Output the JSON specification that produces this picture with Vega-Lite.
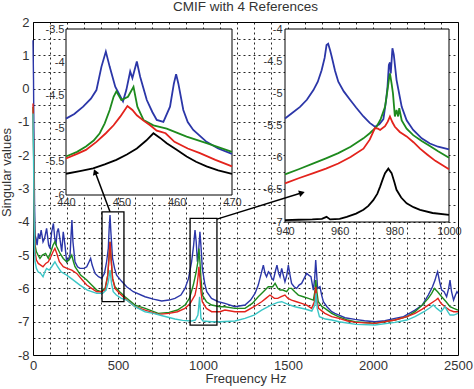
{
"$schema": "https://vega.github.io/schema/vega-lite/v6.json",
"autosize": {"type": "none"},
"width": 425, "height": 333,
"padding": {"left": 33, "top": 22, "right": 16, "bottom": 34},
"title": {"text": "CMIF with 4 References", "fontSize": 13.5, "fontWeight": "normal", "color": "#333", "baseline": "alphabetic", "offset": 3, "dy": 11, "frame": "group"},
"config": {"font": "Liberation Sans", "view": {"stroke": "#000", "strokeWidth": 1}},
"datasets": {
"main": [
{"s":"1","f":0,"v":1.45},{"s":"1","f":3,"v":0.3},{"s":"1","f":6,"v":-1.8},{"s":"1","f":9,"v":-3.4},{"s":"1","f":12,"v":-4.4},{"s":"1","f":18,"v":-4.5},{"s":"1","f":24,"v":-4.7},{"s":"1","f":32,"v":-4.35},{"s":"1","f":40,"v":-4.5},{"s":"1","f":48,"v":-4.25},{"s":"1","f":59,"v":-4.6},{"s":"1","f":68,"v":-4.5},{"s":"1","f":80,"v":-4.2},{"s":"1","f":92,"v":-4.7},{"s":"1","f":100,"v":-4.8},{"s":"1","f":110,"v":-4.3},{"s":"1","f":120,"v":-4.05},{"s":"1","f":128,"v":-4.5},{"s":"1","f":135,"v":-4.7},{"s":"1","f":142,"v":-4.3},{"s":"1","f":149,"v":-4.2},{"s":"1","f":158,"v":-4.5},{"s":"1","f":169,"v":-4.9},{"s":"1","f":178,"v":-4.3},{"s":"1","f":188,"v":-4.7},{"s":"1","f":198,"v":-5.2},{"s":"1","f":210,"v":-5.1},{"s":"1","f":218,"v":-5.0},{"s":"1","f":224,"v":-4.4},{"s":"1","f":229,"v":-3.95},{"s":"1","f":235,"v":-4.6},{"s":"1","f":247,"v":-5.2},{"s":"1","f":262,"v":-5.35},{"s":"1","f":276,"v":-5.4},{"s":"1","f":300,"v":-5.4},{"s":"1","f":316,"v":-5.35},{"s":"1","f":330,"v":-5.2},{"s":"1","f":339,"v":-5.1},{"s":"1","f":348,"v":-5.3},{"s":"1","f":365,"v":-5.55},{"s":"1","f":385,"v":-5.65},{"s":"1","f":404,"v":-5.7},{"s":"1","f":420,"v":-5.55},{"s":"1","f":433,"v":-5.2},{"s":"1","f":443,"v":-4.8},{"s":"1","f":448,"v":-4.2},{"s":"1","f":453,"v":-3.8},{"s":"1","f":458,"v":-4.3},{"s":"1","f":468,"v":-5.1},{"s":"1","f":480,"v":-5.4},{"s":"1","f":492,"v":-5.6},{"s":"1","f":520,"v":-5.78},{"s":"1","f":551,"v":-5.95},{"s":"1","f":590,"v":-6.1},{"s":"1","f":659,"v":-6.25},{"s":"1","f":708,"v":-6.32},{"s":"1","f":757,"v":-6.38},{"s":"1","f":800,"v":-6.35},{"s":"1","f":835,"v":-6.3},{"s":"1","f":870,"v":-6.2},{"s":"1","f":894,"v":-6.0},{"s":"1","f":915,"v":-5.7},{"s":"1","f":933,"v":-5.2},{"s":"1","f":945,"v":-4.7},{"s":"1","f":953,"v":-4.25},{"s":"1","f":960,"v":-4.6},{"s":"1","f":967,"v":-5.2},{"s":"1","f":974,"v":-4.9},{"s":"1","f":982,"v":-4.3},{"s":"1","f":989,"v":-4.8},{"s":"1","f":996,"v":-5.4},{"s":"1","f":1010,"v":-5.85},{"s":"1","f":1022,"v":-6.1},{"s":"1","f":1050,"v":-6.3},{"s":"1","f":1090,"v":-6.4},{"s":"1","f":1129,"v":-6.45},{"s":"1","f":1188,"v":-6.55},{"s":"1","f":1247,"v":-6.5},{"s":"1","f":1280,"v":-6.35},{"s":"1","f":1306,"v":-6.15},{"s":"1","f":1325,"v":-5.9},{"s":"1","f":1340,"v":-5.6},{"s":"1","f":1355,"v":-5.3},{"s":"1","f":1365,"v":-5.55},{"s":"1","f":1374,"v":-5.65},{"s":"1","f":1385,"v":-5.5},{"s":"1","f":1394,"v":-5.55},{"s":"1","f":1405,"v":-5.7},{"s":"1","f":1414,"v":-5.75},{"s":"1","f":1425,"v":-5.5},{"s":"1","f":1435,"v":-5.3},{"s":"1","f":1445,"v":-5.55},{"s":"1","f":1453,"v":-5.65},{"s":"1","f":1463,"v":-5.4},{"s":"1","f":1472,"v":-5.6},{"s":"1","f":1482,"v":-5.8},{"s":"1","f":1493,"v":-5.6},{"s":"1","f":1502,"v":-5.3},{"s":"1","f":1512,"v":-5.6},{"s":"1","f":1521,"v":-5.85},{"s":"1","f":1536,"v":-5.95},{"s":"1","f":1551,"v":-6.0},{"s":"1","f":1565,"v":-5.9},{"s":"1","f":1580,"v":-5.85},{"s":"1","f":1595,"v":-5.7},{"s":"1","f":1610,"v":-5.55},{"s":"1","f":1622,"v":-5.6},{"s":"1","f":1635,"v":-5.65},{"s":"1","f":1649,"v":-6.05},{"s":"1","f":1657,"v":-5.7},{"s":"1","f":1663,"v":-5.15},{"s":"1","f":1669,"v":-5.6},{"s":"1","f":1674,"v":-6.0},{"s":"1","f":1688,"v":-5.95},{"s":"1","f":1698,"v":-6.2},{"s":"1","f":1708,"v":-6.4},{"s":"1","f":1729,"v":-6.55},{"s":"1","f":1757,"v":-6.7},{"s":"1","f":1776,"v":-6.75},{"s":"1","f":1800,"v":-6.8},{"s":"1","f":1835,"v":-6.88},{"s":"1","f":1894,"v":-6.93},{"s":"1","f":1950,"v":-6.97},{"s":"1","f":2012,"v":-7.0},{"s":"1","f":2070,"v":-6.97},{"s":"1","f":2129,"v":-6.9},{"s":"1","f":2180,"v":-6.85},{"s":"1","f":2247,"v":-6.65},{"s":"1","f":2290,"v":-6.5},{"s":"1","f":2325,"v":-6.2},{"s":"1","f":2350,"v":-5.95},{"s":"1","f":2365,"v":-5.75},{"s":"1","f":2376,"v":-5.55},{"s":"1","f":2380,"v":-5.5},{"s":"1","f":2392,"v":-5.8},{"s":"1","f":2404,"v":-6.05},{"s":"1","f":2418,"v":-6.1},{"s":"1","f":2433,"v":-6.25},{"s":"1","f":2445,"v":-6.0},{"s":"1","f":2453,"v":-5.75},{"s":"1","f":2462,"v":-6.1},{"s":"1","f":2474,"v":-6.35},{"s":"1","f":2485,"v":-6.2},{"s":"1","f":2494,"v":-6.1},{"s":"1","f":2500,"v":-6.15},
{"s":"2","f":0,"v":-0.55},{"s":"2","f":3,"v":-1.6},{"s":"2","f":6,"v":-3.0},{"s":"2","f":9,"v":-4.2},{"s":"2","f":12,"v":-4.7},{"s":"2","f":20,"v":-4.9},{"s":"2","f":30,"v":-5.0},{"s":"2","f":41,"v":-5.1},{"s":"2","f":55,"v":-5.0},{"s":"2","f":74,"v":-4.95},{"s":"2","f":90,"v":-5.1},{"s":"2","f":105,"v":-4.9},{"s":"2","f":118,"v":-4.7},{"s":"2","f":129,"v":-4.6},{"s":"2","f":140,"v":-4.75},{"s":"2","f":159,"v":-4.95},{"s":"2","f":178,"v":-5.1},{"s":"2","f":198,"v":-5.2},{"s":"2","f":212,"v":-5.15},{"s":"2","f":228,"v":-5.0},{"s":"2","f":238,"v":-5.2},{"s":"2","f":247,"v":-5.35},{"s":"2","f":280,"v":-5.6},{"s":"2","f":316,"v":-5.75},{"s":"2","f":345,"v":-5.9},{"s":"2","f":375,"v":-6.05},{"s":"2","f":400,"v":-6.1},{"s":"2","f":424,"v":-6.0},{"s":"2","f":440,"v":-5.6},{"s":"2","f":448,"v":-5.0},{"s":"2","f":453,"v":-4.6},{"s":"2","f":458,"v":-5.0},{"s":"2","f":468,"v":-5.7},{"s":"2","f":482,"v":-5.95},{"s":"2","f":510,"v":-6.1},{"s":"2","f":541,"v":-6.25},{"s":"2","f":600,"v":-6.5},{"s":"2","f":660,"v":-6.6},{"s":"2","f":737,"v":-6.75},{"s":"2","f":800,"v":-6.72},{"s":"2","f":850,"v":-6.65},{"s":"2","f":894,"v":-6.5},{"s":"2","f":920,"v":-6.3},{"s":"2","f":943,"v":-5.9},{"s":"2","f":960,"v":-5.5},{"s":"2","f":970,"v":-5.2},{"s":"2","f":976,"v":-4.8},{"s":"2","f":982,"v":-5.2},{"s":"2","f":988,"v":-5.7},{"s":"2","f":996,"v":-6.2},{"s":"2","f":1020,"v":-6.4},{"s":"2","f":1051,"v":-6.5},{"s":"2","f":1100,"v":-6.55},{"s":"2","f":1129,"v":-6.55},{"s":"2","f":1188,"v":-6.6},{"s":"2","f":1247,"v":-6.6},{"s":"2","f":1290,"v":-6.45},{"s":"2","f":1325,"v":-6.25},{"s":"2","f":1355,"v":-6.1},{"s":"2","f":1384,"v":-5.95},{"s":"2","f":1410,"v":-5.95},{"s":"2","f":1424,"v":-5.85},{"s":"2","f":1440,"v":-6.0},{"s":"2","f":1453,"v":-6.05},{"s":"2","f":1470,"v":-6.05},{"s":"2","f":1492,"v":-6.1},{"s":"2","f":1506,"v":-6.0},{"s":"2","f":1521,"v":-6.0},{"s":"2","f":1540,"v":-6.1},{"s":"2","f":1561,"v":-6.2},{"s":"2","f":1590,"v":-6.25},{"s":"2","f":1620,"v":-6.3},{"s":"2","f":1649,"v":-6.35},{"s":"2","f":1658,"v":-6.1},{"s":"2","f":1663,"v":-5.75},{"s":"2","f":1670,"v":-6.1},{"s":"2","f":1678,"v":-6.4},{"s":"2","f":1700,"v":-6.55},{"s":"2","f":1717,"v":-6.6},{"s":"2","f":1757,"v":-6.75},{"s":"2","f":1796,"v":-6.85},{"s":"2","f":1850,"v":-6.95},{"s":"2","f":1894,"v":-7.0},{"s":"2","f":2012,"v":-7.05},{"s":"2","f":2129,"v":-6.95},{"s":"2","f":2200,"v":-6.85},{"s":"2","f":2247,"v":-6.7},{"s":"2","f":2290,"v":-6.5},{"s":"2","f":2325,"v":-6.3},{"s":"2","f":2345,"v":-6.15},{"s":"2","f":2361,"v":-6.0},{"s":"2","f":2380,"v":-6.1},{"s":"2","f":2404,"v":-6.25},{"s":"2","f":2430,"v":-6.4},{"s":"2","f":2453,"v":-6.55},{"s":"2","f":2475,"v":-6.6},{"s":"2","f":2500,"v":-6.65},
{"s":"3","f":0,"v":-0.45},{"s":"3","f":3,"v":-1.5},{"s":"3","f":6,"v":-3.0},{"s":"3","f":9,"v":-4.4},{"s":"3","f":12,"v":-4.9},{"s":"3","f":20,"v":-5.15},{"s":"3","f":31,"v":-5.25},{"s":"3","f":45,"v":-5.3},{"s":"3","f":59,"v":-5.35},{"s":"3","f":75,"v":-5.25},{"s":"3","f":90,"v":-5.2},{"s":"3","f":105,"v":-5.05},{"s":"3","f":118,"v":-4.9},{"s":"3","f":129,"v":-4.8},{"s":"3","f":140,"v":-4.95},{"s":"3","f":155,"v":-5.2},{"s":"3","f":178,"v":-5.35},{"s":"3","f":200,"v":-5.4},{"s":"3","f":228,"v":-5.45},{"s":"3","f":257,"v":-5.55},{"s":"3","f":290,"v":-5.75},{"s":"3","f":316,"v":-5.9},{"s":"3","f":345,"v":-6.0},{"s":"3","f":375,"v":-6.1},{"s":"3","f":400,"v":-6.1},{"s":"3","f":424,"v":-6.05},{"s":"3","f":440,"v":-5.6},{"s":"3","f":448,"v":-5.0},{"s":"3","f":453,"v":-4.6},{"s":"3","f":458,"v":-5.0},{"s":"3","f":468,"v":-5.7},{"s":"3","f":482,"v":-6.0},{"s":"3","f":510,"v":-6.15},{"s":"3","f":541,"v":-6.3},{"s":"3","f":600,"v":-6.55},{"s":"3","f":660,"v":-6.65},{"s":"3","f":737,"v":-6.78},{"s":"3","f":800,"v":-6.75},{"s":"3","f":850,"v":-6.7},{"s":"3","f":894,"v":-6.6},{"s":"3","f":925,"v":-6.45},{"s":"3","f":953,"v":-6.2},{"s":"3","f":965,"v":-5.9},{"s":"3","f":972,"v":-5.6},{"s":"3","f":976,"v":-5.35},{"s":"3","f":982,"v":-5.7},{"s":"3","f":988,"v":-6.1},{"s":"3","f":996,"v":-6.4},{"s":"3","f":1020,"v":-6.6},{"s":"3","f":1051,"v":-6.7},{"s":"3","f":1100,"v":-6.7},{"s":"3","f":1129,"v":-6.65},{"s":"3","f":1188,"v":-6.7},{"s":"3","f":1247,"v":-6.7},{"s":"3","f":1300,"v":-6.55},{"s":"3","f":1345,"v":-6.4},{"s":"3","f":1370,"v":-6.3},{"s":"3","f":1394,"v":-6.2},{"s":"3","f":1420,"v":-6.3},{"s":"3","f":1440,"v":-6.3},{"s":"3","f":1460,"v":-6.25},{"s":"3","f":1482,"v":-6.2},{"s":"3","f":1500,"v":-6.3},{"s":"3","f":1521,"v":-6.35},{"s":"3","f":1550,"v":-6.4},{"s":"3","f":1580,"v":-6.45},{"s":"3","f":1610,"v":-6.5},{"s":"3","f":1639,"v":-6.6},{"s":"3","f":1655,"v":-6.4},{"s":"3","f":1663,"v":-5.95},{"s":"3","f":1670,"v":-6.35},{"s":"3","f":1680,"v":-6.6},{"s":"3","f":1717,"v":-6.75},{"s":"3","f":1757,"v":-6.85},{"s":"3","f":1800,"v":-6.9},{"s":"3","f":1850,"v":-6.98},{"s":"3","f":1900,"v":-7.02},{"s":"3","f":2012,"v":-7.05},{"s":"3","f":2129,"v":-6.95},{"s":"3","f":2200,"v":-6.85},{"s":"3","f":2247,"v":-6.75},{"s":"3","f":2290,"v":-6.62},{"s":"3","f":2325,"v":-6.5},{"s":"3","f":2355,"v":-6.4},{"s":"3","f":2370,"v":-6.35},{"s":"3","f":2382,"v":-6.3},{"s":"3","f":2400,"v":-6.45},{"s":"3","f":2423,"v":-6.55},{"s":"3","f":2450,"v":-6.65},{"s":"3","f":2475,"v":-6.7},{"s":"3","f":2500,"v":-6.7},
{"s":"4","f":0,"v":-0.75},{"s":"4","f":3,"v":-2.0},{"s":"4","f":6,"v":-3.6},{"s":"4","f":9,"v":-4.8},{"s":"4","f":12,"v":-5.2},{"s":"4","f":20,"v":-5.4},{"s":"4","f":30,"v":-5.5},{"s":"4","f":45,"v":-5.55},{"s":"4","f":59,"v":-5.65},{"s":"4","f":70,"v":-5.5},{"s":"4","f":80,"v":-5.4},{"s":"4","f":95,"v":-5.45},{"s":"4","f":110,"v":-5.35},{"s":"4","f":129,"v":-5.2},{"s":"4","f":145,"v":-5.35},{"s":"4","f":165,"v":-5.5},{"s":"4","f":198,"v":-5.6},{"s":"4","f":230,"v":-5.72},{"s":"4","f":276,"v":-5.9},{"s":"4","f":320,"v":-6.05},{"s":"4","f":375,"v":-6.15},{"s":"4","f":410,"v":-6.15},{"s":"4","f":430,"v":-6.05},{"s":"4","f":443,"v":-5.8},{"s":"4","f":453,"v":-5.45},{"s":"4","f":462,"v":-5.85},{"s":"4","f":472,"v":-6.1},{"s":"4","f":490,"v":-6.2},{"s":"4","f":520,"v":-6.3},{"s":"4","f":551,"v":-6.35},{"s":"4","f":600,"v":-6.55},{"s":"4","f":659,"v":-6.7},{"s":"4","f":708,"v":-6.75},{"s":"4","f":760,"v":-6.82},{"s":"4","f":835,"v":-6.92},{"s":"4","f":880,"v":-6.96},{"s":"4","f":933,"v":-6.98},{"s":"4","f":955,"v":-6.95},{"s":"4","f":970,"v":-6.8},{"s":"4","f":976,"v":-6.5},{"s":"4","f":980,"v":-6.25},{"s":"4","f":984,"v":-6.6},{"s":"4","f":988,"v":-6.9},{"s":"4","f":1000,"v":-6.98},{"s":"4","f":1051,"v":-7.0},{"s":"4","f":1100,"v":-7.0},{"s":"4","f":1188,"v":-6.98},{"s":"4","f":1247,"v":-6.9},{"s":"4","f":1300,"v":-6.8},{"s":"4","f":1345,"v":-6.65},{"s":"4","f":1400,"v":-6.5},{"s":"4","f":1440,"v":-6.42},{"s":"4","f":1463,"v":-6.4},{"s":"4","f":1500,"v":-6.48},{"s":"4","f":1541,"v":-6.55},{"s":"4","f":1600,"v":-6.62},{"s":"4","f":1640,"v":-6.68},{"s":"4","f":1658,"v":-6.5},{"s":"4","f":1665,"v":-6.15},{"s":"4","f":1672,"v":-6.6},{"s":"4","f":1685,"v":-6.85},{"s":"4","f":1720,"v":-6.92},{"s":"4","f":1757,"v":-6.95},{"s":"4","f":1800,"v":-7.0},{"s":"4","f":1900,"v":-7.08},{"s":"4","f":2012,"v":-7.1},{"s":"4","f":2129,"v":-7.02},{"s":"4","f":2200,"v":-6.95},{"s":"4","f":2247,"v":-6.85},{"s":"4","f":2300,"v":-6.7},{"s":"4","f":2335,"v":-6.58},{"s":"4","f":2355,"v":-6.5},{"s":"4","f":2375,"v":-6.6},{"s":"4","f":2400,"v":-6.7},{"s":"4","f":2423,"v":-6.55},{"s":"4","f":2440,"v":-6.7},{"s":"4","f":2453,"v":-6.8},{"s":"4","f":2475,"v":-6.8},{"s":"4","f":2500,"v":-6.75}
],
"in1": [
{"s":"1","f":440,"v":-4.85},{"s":"1","f":441.5,"v":-4.78},{"s":"1","f":443.1,"v":-4.67},{"s":"1","f":444.5,"v":-4.55},{"s":"1","f":445.5,"v":-4.42},{"s":"1","f":446.4,"v":-4.07},{"s":"1","f":447.2,"v":-3.84},{"s":"1","f":447.9,"v":-4.07},{"s":"1","f":448.9,"v":-4.37},{"s":"1","f":450.3,"v":-4.59},{"s":"1","f":450.9,"v":-4.42},{"s":"1","f":451.6,"v":-4.14},{"s":"1","f":452,"v":-4.24},{"s":"1","f":452.8,"v":-3.99},{"s":"1","f":453.4,"v":-4.22},{"s":"1","f":454.6,"v":-4.57},{"s":"1","f":455.6,"v":-4.75},{"s":"1","f":456.4,"v":-4.87},{"s":"1","f":457.6,"v":-4.9},{"s":"1","f":458.8,"v":-4.67},{"s":"1","f":459.5,"v":-4.32},{"s":"1","f":459.9,"v":-4.18},{"s":"1","f":460.3,"v":-4.32},{"s":"1","f":461.2,"v":-4.72},{"s":"1","f":462,"v":-4.9},{"s":"1","f":463,"v":-5.02},{"s":"1","f":465.4,"v":-5.2},{"s":"1","f":467.5,"v":-5.3},{"s":"1","f":470,"v":-5.38},
{"s":"2","f":440,"v":-5.42},{"s":"2","f":442,"v":-5.35},{"s":"2","f":443.6,"v":-5.27},{"s":"2","f":445,"v":-5.18},{"s":"2","f":446.1,"v":-5.07},{"s":"2","f":447,"v":-4.92},{"s":"2","f":447.9,"v":-4.72},{"s":"2","f":448.6,"v":-4.52},{"s":"2","f":449.1,"v":-4.44},{"s":"2","f":450,"v":-4.57},{"s":"2","f":451.2,"v":-4.52},{"s":"2","f":452.2,"v":-4.37},{"s":"2","f":452.9,"v":-4.67},{"s":"2","f":454,"v":-4.87},{"s":"2","f":455.8,"v":-4.95},{"s":"2","f":458.2,"v":-5.0},{"s":"2","f":460,"v":-5.06},{"s":"2","f":461.8,"v":-5.12},{"s":"2","f":465.4,"v":-5.22},{"s":"2","f":470,"v":-5.35},
{"s":"3","f":440,"v":-5.45},{"s":"3","f":442,"v":-5.38},{"s":"3","f":443.6,"v":-5.32},{"s":"3","f":445.5,"v":-5.2},{"s":"3","f":447.2,"v":-5.07},{"s":"3","f":448.6,"v":-4.95},{"s":"3","f":449.8,"v":-4.82},{"s":"3","f":451.1,"v":-4.66},{"s":"3","f":452,"v":-4.72},{"s":"3","f":452.8,"v":-4.8},{"s":"3","f":454,"v":-4.88},{"s":"3","f":455.2,"v":-4.95},{"s":"3","f":456.4,"v":-5.03},{"s":"3","f":457.2,"v":-5.05},{"s":"3","f":458,"v":-5.07},{"s":"3","f":459.6,"v":-5.2},{"s":"3","f":462,"v":-5.3},{"s":"3","f":464.2,"v":-5.37},{"s":"3","f":467,"v":-5.47},{"s":"3","f":470,"v":-5.57},
{"s":"k","f":440,"v":-5.68},{"s":"k","f":442.5,"v":-5.64},{"s":"k","f":444.9,"v":-5.6},{"s":"k","f":447,"v":-5.54},{"s":"k","f":449.1,"v":-5.47},{"s":"k","f":451,"v":-5.39},{"s":"k","f":452.8,"v":-5.3},{"s":"k","f":454.5,"v":-5.18},{"s":"k","f":455.8,"v":-5.07},{"s":"k","f":457,"v":-5.14},{"s":"k","f":458.2,"v":-5.22},{"s":"k","f":460,"v":-5.32},{"s":"k","f":461.8,"v":-5.42},{"s":"k","f":463.5,"v":-5.5},{"s":"k","f":465.4,"v":-5.57},{"s":"k","f":467.5,"v":-5.63},{"s":"k","f":470,"v":-5.68}
],
"in2": [
{"s":"1","f":940,"v":-5.39},{"s":"1","f":942.5,"v":-5.31},{"s":"1","f":945.5,"v":-5.21},{"s":"1","f":948,"v":-5.1},{"s":"1","f":950.4,"v":-4.95},{"s":"1","f":952,"v":-4.82},{"s":"1","f":953.4,"v":-4.64},{"s":"1","f":954.5,"v":-4.45},{"s":"1","f":955.2,"v":-4.25},{"s":"1","f":955.8,"v":-4.23},{"s":"1","f":956.5,"v":-4.33},{"s":"1","f":957.1,"v":-4.43},{"s":"1","f":958.3,"v":-4.65},{"s":"1","f":959.5,"v":-4.82},{"s":"1","f":961.5,"v":-4.97},{"s":"1","f":963.8,"v":-5.1},{"s":"1","f":966,"v":-5.22},{"s":"1","f":968.7,"v":-5.36},{"s":"1","f":971,"v":-5.46},{"s":"1","f":972.9,"v":-5.52},{"s":"1","f":974.5,"v":-5.48},{"s":"1","f":976,"v":-5.4},{"s":"1","f":977,"v":-5.1},{"s":"1","f":977.5,"v":-4.9},{"s":"1","f":978,"v":-4.56},{"s":"1","f":978.4,"v":-4.52},{"s":"1","f":978.7,"v":-4.69},{"s":"1","f":979.3,"v":-4.3},{"s":"1","f":979.8,"v":-4.4},{"s":"1","f":980.8,"v":-4.79},{"s":"1","f":982.7,"v":-5.21},{"s":"1","f":984.5,"v":-5.42},{"s":"1","f":986.9,"v":-5.57},{"s":"1","f":990,"v":-5.7},{"s":"1","f":993,"v":-5.78},{"s":"1","f":996,"v":-5.83},{"s":"1","f":1000,"v":-5.87},
{"s":"2","f":940,"v":-6.26},{"s":"2","f":945,"v":-6.18},{"s":"2","f":950.4,"v":-6.09},{"s":"2","f":955,"v":-6.01},{"s":"2","f":959.5,"v":-5.93},{"s":"2","f":964,"v":-5.83},{"s":"2","f":968.7,"v":-5.7},{"s":"2","f":971,"v":-5.62},{"s":"2","f":973.5,"v":-5.52},{"s":"2","f":975,"v":-5.4},{"s":"2","f":976.6,"v":-5.21},{"s":"2","f":977.5,"v":-4.95},{"s":"2","f":978,"v":-4.79},{"s":"2","f":978.4,"v":-4.69},{"s":"2","f":979,"v":-4.85},{"s":"2","f":979.5,"v":-5.0},{"s":"2","f":980.2,"v":-5.36},{"s":"2","f":980.8,"v":-5.26},{"s":"2","f":981.4,"v":-5.36},{"s":"2","f":981.8,"v":-5.23},{"s":"2","f":982.7,"v":-5.42},{"s":"2","f":984.5,"v":-5.55},{"s":"2","f":986.9,"v":-5.65},{"s":"2","f":990,"v":-5.74},{"s":"2","f":993,"v":-5.82},{"s":"2","f":996,"v":-5.9},{"s":"2","f":1000,"v":-6.0},
{"s":"3","f":940,"v":-6.4},{"s":"3","f":945,"v":-6.32},{"s":"3","f":950.4,"v":-6.24},{"s":"3","f":955,"v":-6.17},{"s":"3","f":959.5,"v":-6.09},{"s":"3","f":964,"v":-5.99},{"s":"3","f":968.7,"v":-5.86},{"s":"3","f":971,"v":-5.72},{"s":"3","f":972.9,"v":-5.54},{"s":"3","f":974,"v":-5.55},{"s":"3","f":974.8,"v":-5.57},{"s":"3","f":976.6,"v":-5.51},{"s":"3","f":977.6,"v":-5.44},{"s":"3","f":978.4,"v":-5.36},{"s":"3","f":979.3,"v":-5.45},{"s":"3","f":980.2,"v":-5.52},{"s":"3","f":982,"v":-5.6},{"s":"3","f":984.5,"v":-5.67},{"s":"3","f":987,"v":-5.76},{"s":"3","f":989.4,"v":-5.86},{"s":"3","f":992,"v":-5.95},{"s":"3","f":995,"v":-6.05},{"s":"3","f":1000,"v":-6.18},
{"s":"k","f":940,"v":-6.97},{"s":"k","f":945,"v":-6.965},{"s":"k","f":950,"v":-6.96},{"s":"k","f":953.5,"v":-6.95},{"s":"k","f":955.2,"v":-6.92},{"s":"k","f":956.5,"v":-6.96},{"s":"k","f":960,"v":-6.95},{"s":"k","f":962.6,"v":-6.92},{"s":"k","f":966,"v":-6.87},{"s":"k","f":968.7,"v":-6.81},{"s":"k","f":970.5,"v":-6.75},{"s":"k","f":972.3,"v":-6.66},{"s":"k","f":973.8,"v":-6.56},{"s":"k","f":974.8,"v":-6.45},{"s":"k","f":975.8,"v":-6.33},{"s":"k","f":976.6,"v":-6.24},{"s":"k","f":977.8,"v":-6.17},{"s":"k","f":979,"v":-6.24},{"s":"k","f":980,"v":-6.38},{"s":"k","f":980.8,"v":-6.5},{"s":"k","f":982.5,"v":-6.62},{"s":"k","f":984.5,"v":-6.71},{"s":"k","f":987,"v":-6.77},{"s":"k","f":989.4,"v":-6.81},{"s":"k","f":994,"v":-6.86},{"s":"k","f":1000,"v":-6.89}
],
"boxes": [{"f":406,"f2":535,"v":-3.7,"v2":-6.4},{"f":924,"f2":1082,"v":-3.9,"v2":-7.1}],
"frame1": [{"f":440,"f2":470,"v":-6,"v2":-3.5}],
"frame2": [{"f":940,"f2":1000,"v":-7,"v2":-4}],
"g1x": [{"g":450},{"g":460}],
"g1y": [{"g":-5.5},{"g":-5},{"g":-4.5},{"g":-4}],
"g2x": [{"g":960},{"g":980}],
"arrows": [{"id":"a1","f":453,"v":-3.7,"f2":365,"v2":-2.5},{"id":"a2","f":1082,"v":-3.92,"f2":1582,"v2":-3.13}]
},
"resolve": {"scale": {"x": "independent", "y": "independent"}, "axis": {"x": "independent", "y": "independent"}},
"layer": [
{
"encoding": {
"x": {"field": "f", "type": "quantitative", "scale": {"domain": [0, 2500], "nice": false, "zero": false},
"axis": {"orient": "bottom", "title": "Frequency Hz", "values": [0,100,200,300,400,500,600,700,800,900,1000,1100,1200,1300,1400,1500,1600,1700,1800,1900,2000,2100,2200,2300,2400,2500], "labelExpr": "datum.value % 500 === 0 ? '' + datum.value : ''", "labelFlush": false, "labelOverlap": false, "ticks": false, "domain": false, "grid": true, "gridColor": "#000", "gridDash": [2, 3], "gridOpacity": 0.85, "labelFontSize": 13, "labelColor": "#333", "labelPadding": 4, "titleFontSize": 13, "titleFontWeight": "normal", "titleColor": "#333", "titlePadding": 0}},
"y": {"field": "v", "type": "quantitative", "scale": {"domain": [-8, 2], "nice": false, "zero": false},
"axis": {"orient": "left", "title": "Singular values", "values": [-8,-7.5,-7,-6.5,-6,-5.5,-5,-4.5,-4,-3.5,-3,-2.5,-2,-1.5,-1,-0.5,0,0.5,1,1.5,2], "labelExpr": "datum.value % 1 === 0 ? '' + datum.value : ''", "labelOverlap": false, "ticks": false, "domain": false, "grid": true, "gridColor": "#000", "gridDash": [2, 3], "gridOpacity": 0.85, "labelFontSize": 13, "labelColor": "#333", "labelPadding": 4, "titleFontSize": 13, "titleFontWeight": "normal", "titleColor": "#333", "titlePadding": 4, "titleY": 150}}
},
"layer": [
{"data": {"name": "main"}, "mark": {"type": "line", "strokeWidth": 1.4}, "encoding": {"color": {"field": "s", "type": "nominal", "scale": {"domain": ["1","2","3","4","k"], "range": ["#2b36a8","#1d8a1d","#e3231c","#3cc6c6","#000000"]}, "legend": null}}},
{"data": {"name": "boxes"}, "mark": {"type": "rect", "fillOpacity": 0, "stroke": "#000", "strokeWidth": 1.3}, "encoding": {"x2": {"field": "f2"}, "y2": {"field": "v2"}}}
]
},
{
"encoding": {
"x": {"field": "f", "type": "quantitative", "scale": {"domain": [440, 470], "range": [33, 199], "nice": false, "zero": false},
"axis": {"orient": "bottom", "offset": -160, "title": null, "values": [440,450,460,470], "labelExpr": "'' + datum.value", "labelFlush": false, "labelOverlap": false, "ticks": false, "domain": false, "grid": false, "labelFontSize": 11, "labelColor": "#333", "labelPadding": 1, "zindex": 1}},
"y": {"field": "v", "type": "quantitative", "scale": {"domain": [-6, -3.5], "range": [173, 7], "nice": false, "zero": false},
"axis": {"orient": "left", "offset": -33, "title": null, "values": [-6,-5.5,-5,-4.5,-4,-3.5], "labelExpr": "'' + datum.value", "labelOverlap": false, "ticks": false, "domain": false, "grid": false, "labelFontSize": 11, "labelColor": "#333", "labelPadding": 2, "zindex": 1}}
},
"layer": [
{"data": {"name": "frame1"}, "mark": {"type": "rect", "fill": "#fff", "stroke": "#000", "strokeWidth": 1}, "encoding": {"x2": {"field": "f2"}, "y2": {"field": "v2"}}},
{"data": {"name": "g1x"}, "mark": {"type": "rule", "color": "#000", "strokeWidth": 1, "strokeDash": [3, 3]}, "encoding": {"x": {"field": "g", "type": "quantitative"}, "y": {"datum": -6, "type": "quantitative"}, "y2": {"datum": -3.5}}},
{"data": {"name": "g1y"}, "mark": {"type": "rule", "color": "#000", "strokeWidth": 1, "strokeDash": [3, 3]}, "encoding": {"y": {"field": "g", "type": "quantitative"}, "x": {"datum": 440, "type": "quantitative"}, "x2": {"datum": 470}}},
{"data": {"name": "in1"}, "mark": {"type": "line", "strokeWidth": 1.8}, "encoding": {"color": {"field": "s", "type": "nominal", "legend": null}}}
]
},
{
"encoding": {
"x": {"field": "f", "type": "quantitative", "scale": {"domain": [940, 1000], "range": [252, 416], "nice": false, "zero": false},
"axis": {"orient": "bottom", "offset": -133, "title": null, "values": [940,960,980,1000], "labelExpr": "'' + datum.value", "labelFlush": false, "labelOverlap": false, "ticks": false, "domain": false, "grid": false, "labelFontSize": 11, "labelColor": "#333", "labelPadding": 3, "zindex": 1}},
"y": {"field": "v", "type": "quantitative", "scale": {"domain": [-7, -4], "range": [200, 7], "nice": false, "zero": false},
"axis": {"orient": "left", "offset": -252, "title": null, "values": [-7,-6.5,-6,-5.5,-5,-4.5,-4], "labelExpr": "'' + datum.value", "labelOverlap": false, "ticks": false, "domain": false, "grid": false, "labelFontSize": 11, "labelColor": "#333", "labelPadding": 3, "zindex": 1}}
},
"layer": [
{"data": {"name": "frame2"}, "mark": {"type": "rect", "fill": "#fff", "stroke": "#000", "strokeWidth": 1}, "encoding": {"x2": {"field": "f2"}, "y2": {"field": "v2"}}},
{"data": {"name": "g2x"}, "mark": {"type": "rule", "color": "#000", "strokeWidth": 1, "strokeDash": [3, 3]}, "encoding": {"x": {"field": "g", "type": "quantitative"}, "y": {"datum": -7, "type": "quantitative"}, "y2": {"datum": -4}}},
{"data": {"name": "in2"}, "mark": {"type": "line", "strokeWidth": 1.8}, "encoding": {"color": {"field": "s", "type": "nominal", "legend": null}}}
]
},
{
"data": {"name": "arrows"},
"encoding": {
"x": {"field": "f", "type": "quantitative", "scale": {"domain": [0, 2500], "nice": false, "zero": false}, "axis": null},
"y": {"field": "v", "type": "quantitative", "scale": {"domain": [-8, 2], "nice": false, "zero": false}, "axis": null}
},
"layer": [
{"mark": {"type": "rule", "color": "#000", "strokeWidth": 1.5}, "encoding": {"x2": {"field": "f2"}, "y2": {"field": "v2"}}},
{"transform": [{"filter": "datum.id === 'a1'"}], "mark": {"type": "point", "shape": "triangle-up", "filled": true, "color": "#000", "opacity": 1, "size": 45, "angle": 339}, "encoding": {"x": {"field": "f2", "type": "quantitative"}, "y": {"field": "v2", "type": "quantitative"}}},
{"transform": [{"filter": "datum.id === 'a2'"}], "mark": {"type": "point", "shape": "triangle-up", "filled": true, "color": "#000", "opacity": 1, "size": 45, "angle": 73}, "encoding": {"x": {"field": "f2", "type": "quantitative"}, "y": {"field": "v2", "type": "quantitative"}}}
]
}
]
}
